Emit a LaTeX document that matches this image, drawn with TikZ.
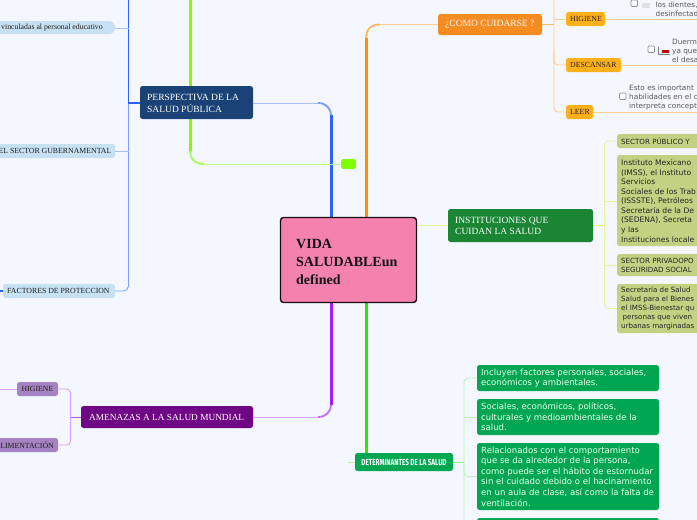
\documentclass[tikz,border=0pt]{standalone}
\usepackage{fontspec}
\setmainfont{Liberation Serif}
\newfontfamily\vfont{DejaVu Sans}
\newfontfamily\nfont[FakeStretch=0.72]{Fira Sans Bold}
\definecolor{bg}{HTML}{F4F7FF}
\definecolor{pinkc}{HTML}{F582AE}
\definecolor{navyc}{HTML}{1A4277}
\definecolor{bluec}{HTML}{2962FF}
\definecolor{bluem}{HTML}{7A9CFF}
\definecolor{blueL}{HTML}{A8C0FF}
\definecolor{leafB}{HTML}{C5E1F3}
\definecolor{purc}{HTML}{6F0685}
\definecolor{purm}{HTML}{A51CFF}
\definecolor{purL}{HTML}{D8A0F8}
\definecolor{leafP}{HTML}{A583C2}
\definecolor{limec}{HTML}{80FF00}
\definecolor{limeL}{HTML}{BEF58A}
\definecolor{orac}{HTML}{FF9100}
\definecolor{oraL}{HTML}{FFCE8A}
\definecolor{oraB}{HTML}{F68B22}
\definecolor{oraS}{HTML}{FFB01A}
\definecolor{insc}{HTML}{1A8533}
\definecolor{yelL}{HTML}{E3F79E}
\definecolor{oliv}{HTML}{C2D182}
\definecolor{grnc}{HTML}{00A651}
\definecolor{grnT}{HTML}{22F000}
\definecolor{grnL}{HTML}{B4F5B4}
\tikzset{x=1pt,y=-1pt,
 box/.style={rounded corners=2.5pt,draw=none},
 lbl/.style={anchor=west,inner sep=0pt,align=left,font=\fontsize{9.5}{12}\selectfont},
 small/.style={lbl,font=\fontsize{7.8}{10}\selectfont,text=black!88},
 greytext/.style={anchor=west,inner sep=0pt,align=left,text=black!65,font=\vfont\fontsize{7.3}{9}\selectfont},
 greenleaf/.style={lbl,font=\vfont\fontsize{8.55}{10.55}\selectfont,text=white!92!green},
 chk/.style={draw=black!45,rounded corners=1pt,line width=.7pt,fill=white},
 thin1/.style={line width=.9pt},
 curve2/.style={line width=1.8pt},
 thick3/.style={line width=3pt},
}
\begin{document}
\begin{tikzpicture}
\useasboundingbox (0,0) rectangle (697,520);
\clip (0,0) rectangle (697,520);
\fill[bg] (0,0) rectangle (697,520);
% main branches: light run, curved middle part, thick trunk
\draw[blueL,thin1] (253,103) -- (318,103);
\draw[bluem,curve2] (318,103) .. controls (326,103) and (331,108) .. (331,116);
\draw[bluec,thick3] (331,217) -- (331,115);
\draw[oraL,thin1] (438,24.5) -- (380,24.5);
\draw[orac!65!white,curve2] (380,24.5) .. controls (371,24.5) and (366,29) .. (366,39);
\draw[orac,thick3] (366,217) -- (366,38);
\draw[limeL,thin1] (341,164) -- (204,164);
\draw[limec!70!white,curve2] (204,164) .. controls (195,164) and (190,159) .. (190,150);
\draw[limec,thick3] (190,0) -- (190,151);
\draw[purL,thin1] (253,417) -- (318,417);
\draw[purm!65!white,curve2] (318,417) .. controls (326,417) and (331,412) .. (331,404);
\draw[purm,thick3] (331,303) -- (331,405);
\draw[grnT,thick3] (366,303) -- (366,453);
\draw[limeL,thin1] (348,462) -- (355,462);
\draw[yelL,thin1] (417,225) -- (448,225);
% left blue
\draw[bluem,thin1,rounded corners=5pt] (128.5,100) -- (128.5,291) -- (115,291);
\draw[bluec,line width=1pt] (128.5,0) -- (128.5,104);
\draw[blueL,thin1] (115,28) -- (128.5,28);
\draw[blueL,thin1] (115,151) -- (128.5,151);
\draw[bluec,line width=1.2pt] (128.5,103) -- (140,103);
\draw[bluec,line width=1.2pt] (0,291) -- (3,291);
% amenazas
\draw[purL,thin1,rounded corners=4pt] (58,389) -- (70.5,389) -- (70.5,445) -- (58,445);
\draw[purm!75!white,line width=1pt] (70.5,417) -- (81,417);
\draw[purL,line width=.8pt] (0,389) -- (17,389);
% orange
\draw[orac!60!white,line width=1pt] (542,24.5) -- (554,24.5);
\draw[oraL,thin1,rounded corners=4pt] (554,0) -- (554,112) -- (566,112);
\draw[oraL,thin1] (554,19) -- (566,19);
\draw[oraL,thin1,rounded corners=4pt] (554,50) -- (554,65) -- (566,65);
\draw[oraL,thin1] (605,19) -- (697,19);
\draw[oraL,thin1] (621,65) -- (697,65);
\draw[oraL,thin1] (593,112) -- (697,112);
% institutions
\draw[yelL!70!yellow,line width=1pt] (593,225) -- (604.5,225);
\draw[yelL,thin1,rounded corners=4pt] (617,141) -- (604.5,141) -- (604.5,308.5) -- (617,308.5);
\draw[yelL,thin1] (604.5,201) -- (617,201);
\draw[yelL,thin1] (604.5,265) -- (617,265);
% determinants
\draw[grnL!70!green,line width=1pt] (453,462) -- (464,462);
\draw[grnL,thin1,rounded corners=4pt] (477,378) -- (464,378) -- (464,525);
\draw[grnL,thin1] (464,417) -- (477,417);
\draw[grnL,thin1,rounded corners=4pt] (464,462) -- (464,476.5) -- (477,476.5);
% central
\node[draw=black!90!pinkc,line width=1.4pt,fill=pinkc,rounded corners=3pt,minimum width=136pt,minimum height=85pt,inner sep=0pt] (root) at (348.5,260) {};
\node[lbl,font=\bfseries\fontsize{14}{18}\selectfont,text=black!92] (roott) at (296,261.5) {VIDA\\SALUDABLEun\\defined};
% main nodes
\fill[navyc,box] (140,86) rectangle (253,119);
\node[lbl,text=white] (persp) at (147,103) {PERSPECTIVA DE LA\\SALUD PÚBLICA};
\fill[purc,box] (81,406) rectangle (253,428);
\node[lbl,text=white,font=\fontsize{9.3}{12}\selectfont] (amen) at (89,417.5) {AMENAZAS A LA SALUD MUNDIAL};
\fill[limec,box] (341,159) rectangle (356,169);
\fill[oraB,box] (438,14) rectangle (542,35);
\node[lbl,text=white] (como) at (445,24.5) {¿COMO CUIDARSE ?};
\fill[insc,box] (448,209) rectangle (593,242);
\node[lbl,text=white,font=\fontsize{9.5}{11}\selectfont] (inst) at (455,225.5) {INSTITUCIONES QUE\\CUIDAN LA SALUD};
\fill[grnc,box] (355,453) rectangle (453,471);
\node[inner sep=0pt,text=white,font=\nfont\fontsize{8.8}{10}\selectfont] (det) at (404,462) {DETERMINANTES DE LA SALUD};
% left blue leaves
\fill[leafB,rounded corners=6pt] (-10,21) rectangle (115,34);
\node[small] (vinc) at (1,27.5) {vinculadas al personal educativo};
\fill[leafB,box] (-60,144) rectangle (115,158);
\node[small,anchor=east] (gub) at (111.5,151) {EL SECTOR GUBERNAMENTAL};
\fill[leafB,box] (3,284) rectangle (115,298);
\node[small] (fac) at (7,291) {FACTORES DE PROTECCION};
% purple leaves
\fill[leafP,box] (17,382) rectangle (58,396);
\node[small] (hig2) at (21.5,389) {HIGIENE};
\fill[leafP,box] (-30,438) rectangle (58,452);
\node[small,anchor=east] (ali) at (54,445) {LIMENTACIÓN};
% orange leaves
\fill[oraS,box] (566,12) rectangle (605,26);
\node[small] (hig) at (570,19) {HIGIENE};
\fill[oraS,box] (566,58) rectangle (621,72);
\node[small] (des) at (570,65) {DESCANSAR};
\fill[oraS,box] (566,105) rectangle (593,119);
\node[small] (lee) at (570,112) {LEER};
% checkboxes, icons and their text
\draw[chk] (631,0) rectangle (637.5,6.5);
\fill[black!12] (642,3) rectangle (650,8);
\node[greytext] (t1) at (655.5,8.8) {los dientes,\\desinfectad};
\draw[chk] (648,46) rectangle (654.5,52.5);
\draw[black!50,line width=.6pt] (658.5,47) -- (658.5,54) -- (670,54);
\fill[red!75!black] (662,50) rectangle (669,53);
\node[greytext] (t2) at (672,51) {Duerm\\ya que\\el desa};
\draw[chk] (619.5,93) rectangle (626,99.5);
\node[greytext] (t3) at (629,97) {Esto es important\\habilidades en el c\\interpreta concept};
% olive leaves
\fill[oliv,box] (617,134) rectangle (720,148);
\node[lbl,font=\vfont\fontsize{7.1}{8.5}\selectfont,text=black!85] (o1) at (621,141) {SECTOR PÚBLICO Y};
\fill[oliv,box] (617,155) rectangle (720,246);
\node[lbl,font=\vfont\fontsize{7.6}{9.55}\selectfont,text=black!85] (o2) at (621,201) {Instituto Mexicano\\(IMSS), el Instituto\\Servicios\\Sociales de los Trab\\(ISSSTE), Petróleos\\Secretaría de la De\\(SEDENA), Secreta\\y las\\Instituciones locale};
\fill[oliv,box] (617,254) rectangle (720,276);
\node[lbl,font=\vfont\fontsize{7.1}{8.8}\selectfont,text=black!85] (o3) at (621,265.5) {SECTOR PRIVADOPO\\SEGURIDAD SOCIAL};
\fill[oliv,box] (617,284) rectangle (720,333);
\node[lbl,font=\vfont\fontsize{7.1}{9}\selectfont,text=black!85] (o4) at (621,308.5) {Secretaría de Salud\\Salud para el Bienes\\el IMSS-Bienestar qu\\\hspace*{1.5pt}personas que viven\\urbanas marginadas};
% green leaves
\fill[grnc,box] (477,365) rectangle (659,391);
\node[greenleaf] (g1) at (481,378) {Incluyen factores personales, sociales,\\económicos y ambientales.};
\fill[grnc,box] (477,399) rectangle (659,435);
\node[greenleaf] (g2) at (481,417) {Sociales, económicos, políticos,\\culturales y medioambientales de la\\salud.};
\fill[grnc,box] (477,443) rectangle (659,510);
\node[greenleaf] (g3) at (481,476.5) {Relacionados con el comportamiento\\que se da alrededor de la persona,\\como puede ser el hábito de estornudar\\sin el cuidado debido o el hacinamiento\\en un aula de clase, así como la falta de\\ventilación.};
\fill[grnc,box] (477,518) rectangle (659,540);
\end{tikzpicture}
\end{document}
